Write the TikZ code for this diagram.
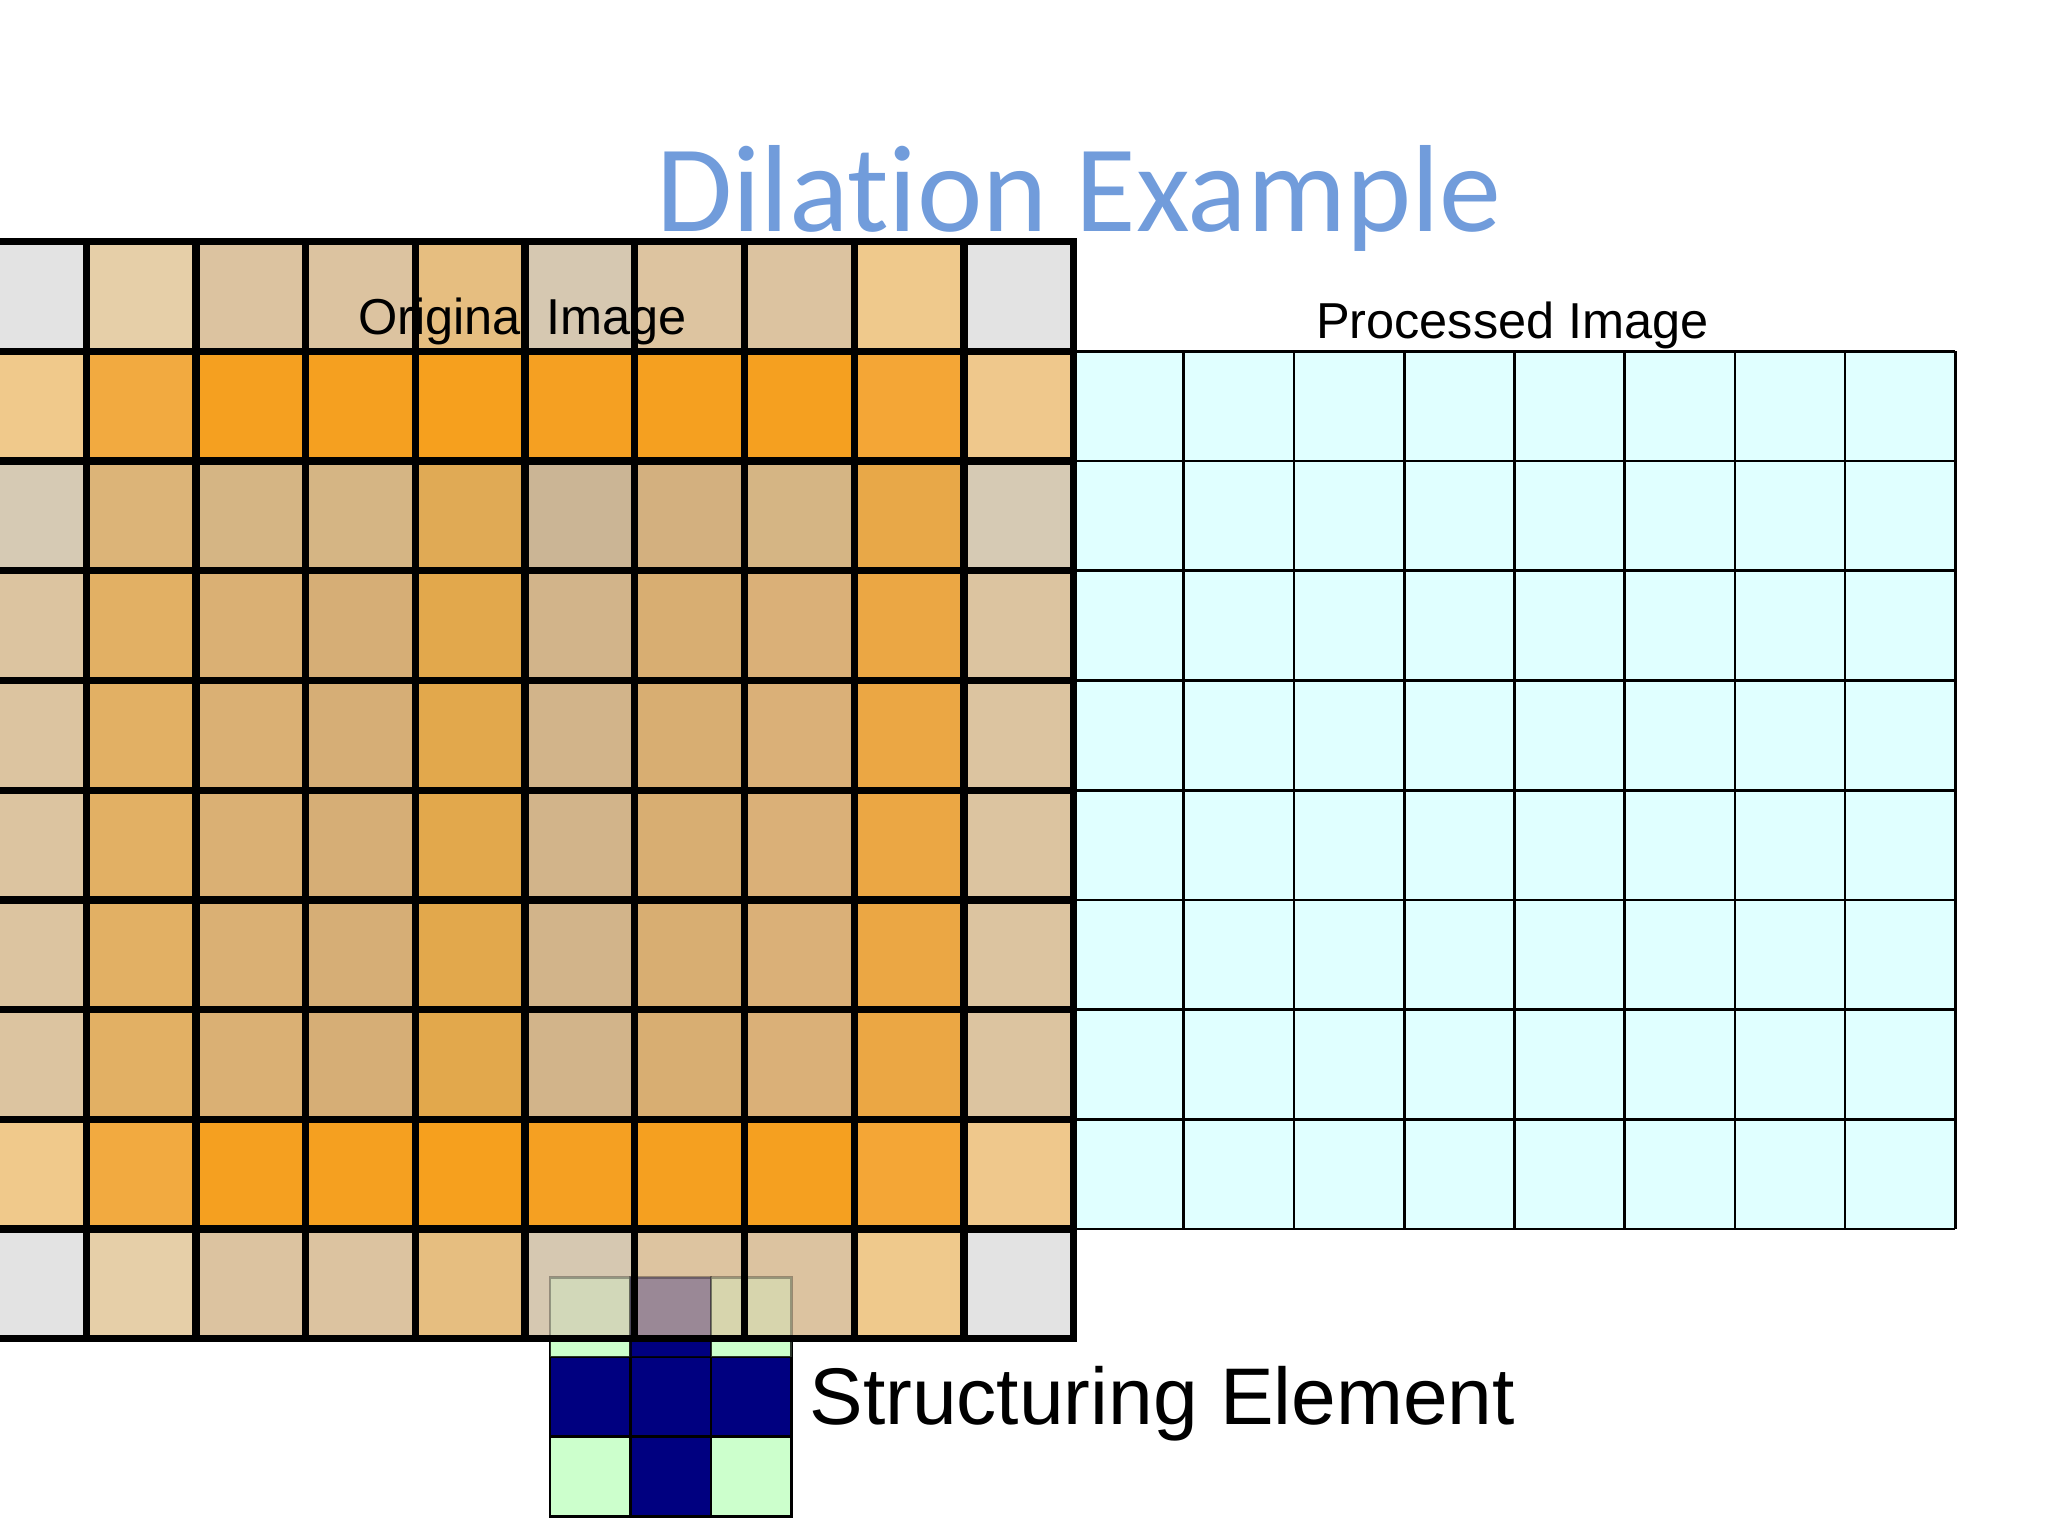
\documentclass[tikz,border=0pt]{standalone}
\usepackage{fontspec}
\setmainfont{Liberation Sans}
\newfontfamily\titlefont[RawFeature={-liga,-clig,-dlig,-calt}]{Carlito}
\usetikzlibrary{positioning}
\definecolor{titleblue}{HTML}{719CDB}
\definecolor{senavy}{HTML}{000080}
\definecolor{segreen}{HTML}{CCFFCC}
\definecolor{processedcyan}{HTML}{E0FFFF}
\tikzset{title text/.style={inner sep=0pt, text=titleblue, font=\titlefont\fontsize{27}{32}\selectfont}}
\tikzset{label text/.style={inner sep=0pt, font=\fontsize{11}{13}\selectfont}}
\tikzset{element text/.style={inner sep=0pt, font=\fontsize{17.5}{21}\selectfont}}
\tikzset{original line/.style={draw=black, line width=1.6pt, line cap=rect}}
\tikzset{processed line/.style={draw=black, line width=0.6pt}}
\tikzset{element cell/.style={draw=black, line width=0.6pt}}
\newcommand{\pixelrow}[2]{%
  \foreach \shade [count=\col from 0] in {#2} {
    \edef\setcell{\noexpand\definecolor{cellfill}{HTML}{\shade}}\setcell
    \fill [cellfill] (-0.18+0.84*\col, -1.85-0.84*#1) rectangle ++(0.84,-0.84);
  }}

\begin{document}
\begin{tikzpicture}
  \path [use as bounding box] (0,0) rectangle (15.68,-11.76);
  \clip (0,0) rectangle (15.68,-11.76);

  \fill [processedcyan] (8.22,-2.69) rectangle (14.97,-9.41);
  \foreach \j in {0,...,8}
    \draw [processed line] (8.22,-2.69-0.84*\j) -- (14.97,-2.69-0.84*\j);
  \foreach \i in {0,...,8}
    \draw [processed line] (8.22+0.84375*\i,-2.69) -- (8.22+0.84375*\i,-9.41);

  \foreach \col/\row/\clr in {0/0/segreen, 1/0/senavy, 2/0/segreen,
                              0/1/senavy,  1/1/senavy, 2/1/senavy,
                              0/2/segreen, 1/2/senavy, 2/2/segreen}
    \filldraw [element cell, fill=\clr] (4.21+0.6167*\col,-9.78-0.61*\row) rectangle ++(0.6167,-0.61);

  \pixelrow{0}{E3E3E3,E6CFA8,DCC3A0,DCC3A0,E6BE80,D6C8B1,DDC4A0,DCC3A0,EFC98C,E3E3E3}
  \pixelrow{1}{F0C98B,F2AA40,F5A020,F5A020,F6A01E,F5A022,F5A020,F5A020,F4A636,EFC88C}
  \pixelrow{2}{D6CAB4,DCB478,D5B584,D5B584,E0AA55,CBB595,D3B07F,D5B584,E8A848,D6CAB4}
  \pixelrow{3}{DCC4A0,E2B064,DAB074,D6AE76,E2A84C,D2B48A,D8AE72,DAB078,EBA744,DCC4A0}
  \pixelrow{4}{DCC4A0,E2B064,DAB074,D6AE76,E2A84C,D2B48A,D8AE72,DAB078,EBA744,DCC4A0}
  \pixelrow{5}{DCC4A0,E2B064,DAB074,D6AE76,E2A84C,D2B48A,D8AE72,DAB078,EBA744,DCC4A0}
  \pixelrow{6}{DCC4A0,E2B064,DAB074,D6AE76,E2A84C,D2B48A,D8AE72,DAB078,EBA744,DCC4A0}
  \pixelrow{7}{DCC4A0,E2B064,DAB074,D6AE76,E2A84C,D2B48A,D8AE72,DAB078,EBA744,DCC4A0}
  \pixelrow{8}{F0C98B,F2AA40,F5A020,F5A020,F6A01E,F5A022,F5A020,F5A020,F4A636,EFC88C}
  \pixelrow{9}{E3E3E3,E6CFA8,DCC3A0,DCC3A0,E6BE80,D6C8B1,DDC4A0,DCC3A0,EFC98C,E3E3E3}

  \foreach \col/\clr in {0/segreen, 1/senavy, 2/segreen}
    \filldraw [element cell, fill=\clr, opacity=0.3] (4.21+0.6167*\col,-9.78) rectangle ++(0.6167,-0.61);

  \node [label text, anchor=base] (original) at (4.00,-2.56) {Original Image};

  \foreach \j in {0,...,10}
    \draw [original line] (-0.18,-1.85-0.84*\j) -- (8.22,-1.85-0.84*\j);
  \foreach \i in {1,...,10}
    \draw [original line] (-0.18+0.84*\i,-1.85) -- (-0.18+0.84*\i,-10.25);

  \node [title text, anchor=base]      (title)     at (8.26,-1.77)  {Dilation Example};
  \node [label text, anchor=base]      (processed) at (11.58,-2.59) {Processed Image};
  \node [element text, anchor=base west] (element) at (6.19,-10.91) {Structuring Element};
\end{tikzpicture}
\end{document}
